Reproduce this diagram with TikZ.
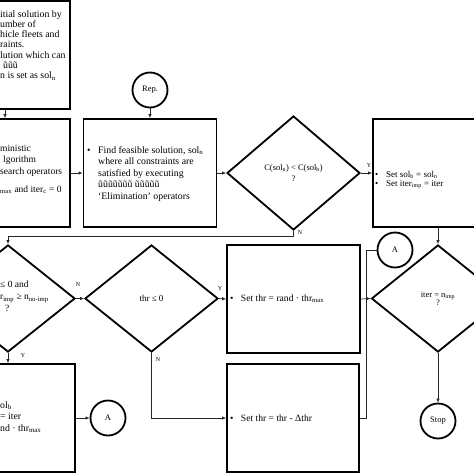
\documentclass[tikz,border=0pt]{standalone}
\usepackage{fontspec}
\setmainfont{Liberation Serif}
\usetikzlibrary{shapes.geometric,arrows.meta}
\definecolor{Linea}{RGB}{40,40,40}
\tikzset{
  caja/.style={draw, rectangle, line width=1.8pt, inner sep=0pt},
  rombo/.style={draw, diamond, line width=1.8pt, inner sep=0pt, minimum width=133pt, minimum height=107pt, align=center, font=\fontsize{8.5}{11}\selectfont},
  circulo/.style={draw, circle, line width=1.8pt, inner sep=0pt, minimum size=35pt, font=\fontsize{8.5}{10}\selectfont},
  texto/.style={anchor=west, inner sep=0pt, align=left, font=\fontsize{9.8}{11.5}\selectfont},
  etiq/.style={inner sep=0pt, font=\fontsize{6}{7}\selectfont},
  flecha/.style={draw=Linea, line width=0.7pt, -{Latex[length=4pt,width=3.5pt]}},
  linea/.style={draw=Linea, line width=0.7pt},
}
\newcommand{\vinieta}{\textbullet}

\begin{document}
\begin{tikzpicture}[x=1pt,y=-1pt]
  \useasboundingbox (0,0) rectangle (474,474);
  \clip (0,0) rectangle (474,474);
  %Fila 1
  \node[caja, minimum width=130pt, minimum height=108pt] (ini) at (5,55) {};
  \node[texto, anchor=north west, font=\fontsize{9.8}{10.3}\selectfont] (ini-t) at (0,10)
    {itial solution by\\umber of\\hicle fleets and\\raints.\\lution which can\\\hspace*{3pt}ũũũ\\n is set as sol\textsubscript{n}};
  \node[circulo] (rep) at (150,90) {Rep.};
  \node[caja, minimum width=130pt, minimum height=108pt] (det) at (5,173) {};
  \node[texto, anchor=north west, font=\fontsize{9.5}{11.5}\selectfont] (det-t) at (0,145)
    {ministic\\\hspace*{3pt}lgorithm\\search operators\\[7pt]\textsubscript{max} and iter\textsubscript{c} = 0};
  \node[caja, minimum width=133pt, minimum height=108pt] (factible) at (150,173) {};
  \node[texto] (factible-t) at (87,174)
    {\begin{tabular}{@{}p{11pt}@{}l@{}}
      \vinieta & Find feasible solution, sol\textsubscript{n}\\
      & where all constraints are\\
      & satisfied by executing\\
      & ũũũũũũũ ũũũũũ\\
      & ‘Elimination’ operators
    \end{tabular}};
  \node[rombo, minimum height=114pt] (comp) at (293.5,173)
    {C(sol\textsubscript{n}) < C(sol\textsubscript{b})\\?};
  \node[caja, minimum width=130pt, minimum height=108pt] (mejor) at (438,173) {};
  \node[texto, font=\fontsize{9}{9}\selectfont] (mejor-t) at (375,180)
    {\begin{tabular}{@{}p{11pt}@{}l@{}}
      \vinieta & Set sol\textsubscript{b} = sol\textsubscript{n}\\
      \vinieta & Set iter\textsubscript{imp} = iter
    \end{tabular}};
  %Fila 2
  \node[rombo, minimum width=134pt] (crit) at (8,298.5) {};
  \node[texto, anchor=north west, font=\fontsize{9.5}{12}\selectfont] (crit-t) at (0,281)
    {≤ 0 and\\r\textsubscript{imp} ≥ n\textsubscript{no-imp}\\\hspace*{5pt}?};
  \node[rombo, font=\fontsize{9}{11}\selectfont] (umbral) at (151.5,298.5) {thr ≤ 0};
  \node[caja, minimum width=133pt, minimum height=108pt] (rand) at (293.5,299) {};
  \node[texto, font=\fontsize{9.6}{11}\selectfont] (rand-t) at (230,298.5)
    {\vinieta\hspace{5pt} Set thr = rand · thr\textsubscript{max}};
  \node[circulo] (a1) at (395,250) {A};
  \coordinate (junta) at (366,298.5);
  \node[rombo, font=\fontsize{8.5}{8.5}\selectfont] (fin) at (438,298.5)
    {iter = n\textsubscript{imp}\\?};
  %Fila 3
  \node[caja, minimum width=134pt, minimum height=108pt] (reinicio) at (8,418) {};
  \node[texto, anchor=north west, font=\fontsize{9.8}{11.5}\selectfont] (reinicio-t) at (0,401)
    {ol\textsubscript{b}\\= iter\\nd · thr\textsubscript{max}};
  \node[circulo] (a2) at (108,418) {A};
  \node[caja, minimum width=132pt, minimum height=108pt] (delta) at (293,418) {};
  \node[texto, font=\fontsize{9.6}{11}\selectfont] (delta-t) at (230,418)
    {\vinieta\hspace{5pt} Set thr = thr - Δthr};
  \node[circulo] (stop) at (438,421) {Stop};
  %Conexiones
  \draw[flecha] (ini.south) -- (det.north);
  \draw[flecha] (rep.south) -- (factible.north);
  \draw[flecha] (det.east) -- (factible.west);
  \draw[flecha] (factible.east) -- (comp.west);
  \draw[flecha] (comp.east) -- (mejor.west);
  \draw[flecha] (comp.south) -- ++(0,5) -| (crit.north);
  \draw[flecha] (mejor.south) -- (fin.north);
  \draw[flecha] (crit.east) -- (umbral.west);
  \draw[flecha] (umbral.east) -- (rand.west);
  \draw[flecha] (umbral.south) |- (delta.west);
  \draw[flecha] (crit.south) -- (reinicio.north);
  \draw[flecha] (reinicio.east) -- (a2.west);
  \draw[flecha] (rand.east) -- (fin.west);
  \draw[linea] (delta.east) -| (junta);
  \draw[linea] (a1.west) -| (junta);
  \draw[flecha] (fin.south) -- (stop.north);
  \node[etiq] (y1) at (369,166) {Y};
  \node[etiq] (n1) at (300,233) {N};
  \node[etiq] (n2) at (78,285) {N};
  \node[etiq] (y2) at (23,356) {Y};
  \node[etiq] (y3) at (220,289) {Y};
  \node[etiq] (n3) at (158,360) {N};
\end{tikzpicture}
\end{document}
